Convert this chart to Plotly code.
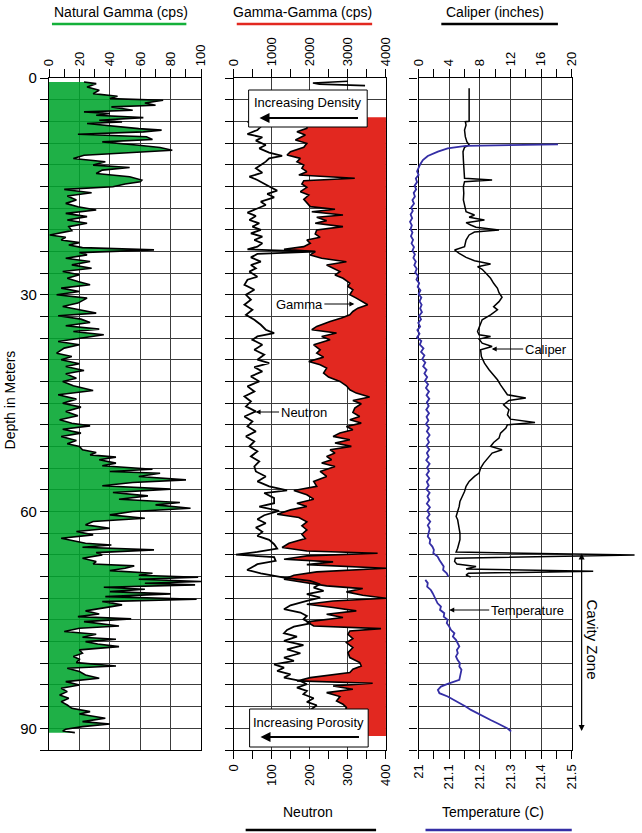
import plotly.graph_objects as go

# ---- data (depth in m) ----
ng_depth = [0.55, 0.78, 1.24, 1.70, 2.16, 2.53, 2.85, 3.08, 3.45, 3.77, 4.00, 4.46, 4.69, 4.92, 5.15, 5.48, 5.84, 6.07, 6.30, 6.76,
            7.00, 7.22, 7.45, 7.78, 8.14, 8.51, 8.84, 9.30, 9.62, 9.99, 10.35, 10.68, 11.14, 11.60, 12.06, 12.38, 12.75, 13.21, 13.67, 14.13,
            14.36, 14.68, 15.05, 15.42, 15.88, 16.34, 16.89, 17.35, 17.81, 18.27, 18.73, 19.19, 19.65, 20.11, 20.57, 21.12, 21.72, 22.04, 22.41, 22.78,
            23.10, 23.47, 23.79, 24.16, 24.48, 24.94, 25.40, 25.86, 26.32, 26.78, 27.24, 27.70, 28.16, 28.62, 29.08, 29.54, 30.00,
            30.46, 31.15, 31.62, 32.08, 32.54, 32.91, 33.37, 33.83, 34.29, 34.75, 35.08, 35.54, 36.00, 36.46, 36.92, 37.38, 38.08, 38.54, 39.00, 39.55,
            39.92, 40.48, 40.94, 41.54, 42.00, 42.60, 43.24, 43.84, 44.44, 45.00, 45.55, 46.15, 46.75, 47.30, 47.77, 48.14, 48.60, 49.15, 49.61, 50.17,
            50.63, 51.00, 51.46, 51.83, 52.15, 52.47, 52.84, 53.30, 53.67, 54.14, 54.46, 54.69, 55.15, 55.61, 55.98, 56.44, 56.90, 57.37, 57.83, 58.29,
            58.75, 59.07, 59.54, 60.00, 60.46, 60.92, 61.38, 61.84, 62.31, 62.77, 63.23, 63.69,
            64.38, 64.62, 64.94, 65.31, 65.68, 66.00, 66.46, 66.92, 67.25, 67.52, 67.85, 68.17, 68.54, 68.81, 69.09, 69.37, 69.69, 69.92, 70.15, 70.48,
            70.75, 71.08, 71.40, 71.77, 72.14, 72.46, 72.92, 73.38, 73.75, 74.17, 74.54, 74.86, 75.23, 75.83, 76.15, 76.61, 76.98, 77.40, 77.68, 78.00,
            78.32, 78.69, 79.15, 79.61, 80.07, 80.44, 80.91, 81.37, 81.69, 82.15, 82.61, 83.08, 83.54, 84.00, 84.46, 84.92, 85.38, 85.84, 86.31, 86.77,
            87.23, 87.69, 88.01, 88.61, 89.07, 89.40, 89.77, 90.14, 90.37, 90.60]
ng_cps = [23, 31, 25, 33, 29, 45, 40, 75, 63, 70, 41, 55, 23, 40, 31, 62, 33, 48, 25, 46,
          59, 74, 62, 19, 64, 68, 35, 59, 73, 81, 54, 23, 16, 37, 29, 53, 35, 31, 53, 61,
          60, 50, 42, 10, 28, 12, 18, 11, 19, 31, 11, 25, 12, 25, 13, 15, 0.5, 11, 8, 20,
          13, 22, 69, 20, 25, 11, 27, 15, 28, 9, 20, 12, 19, 27, 8, 20, 5,
          25, 19, 9, 20, 31, 6, 21, 27, 11, 33, 16, 36, 22, 6, 20, 10, 5, 15, 8, 20,
          11, 23, 11, 18, 9, 16, 29, 6, 18, 9, 21, 11, 19, 7, 15, 27, 9, 21, 8, 18,
          12, 20, 22, 31, 27, 44, 33, 44, 35, 68, 40, 73, 59, 90, 55, 35, 80, 42, 65, 46,
          86, 70, 93, 55, 40, 63, 29, 24, 40, 18, 29, 8,
          24, 41, 22, 69, 31, 35, 22, 31, 29, 56, 50, 40, 68, 59, 98, 59, 100, 63, 96, 36,
          63, 40, 80, 37, 97, 35, 48, 33, 24, 33, 19, 54, 23, 46, 20, 10, 31, 22, 44, 24,
          32, 46, 20, 22, 16, 20, 18, 44, 12, 20, 24, 33, 11, 20, 8, 12, 7, 13, 8, 12,
          15, 27, 20, 37, 22, 40, 22, 11, 9, 17]

gg_top_depth = [0.45, 0.70, 0.85, 1.05]
gg_top_cps = [3000, 2080, 2250, 3450]

gg_depth = [5.44, 6.00, 6.96, 7.43, 7.89, 8.58, 9.04, 9.59, 10.19, 10.66, 11.12, 11.58, 12.04, 12.50, 12.96, 13.42, 13.88, 14.21, 14.67, 15.13,
            15.73, 16.19, 16.79, 17.34, 17.80, 18.17, 18.50, 18.96, 19.28, 19.74, 20.11, 20.57, 21.03, 21.59, 22.05, 22.42, 22.88, 23.34, 23.71, 24.03,
            24.49, 24.95, 25.42, 25.88, 26.33, 26.80, 27.26, 27.72,
            28.39, 28.85, 29.31, 30.00, 30.46, 30.92, 31.38, 31.85, 32.31, 32.77, 33.23, 33.69, 34.38, 34.84, 35.30, 35.77, 36.23, 36.92, 37.61, 38.07,
            38.63, 39.22, 39.68, 40.14, 40.84, 41.39, 41.99, 42.59, 43.15, 43.61, 44.16, 44.62, 45.08, 45.68, 46.28, 46.84, 47.30, 47.76, 48.22, 48.68,
            49.14, 49.60, 50.06, 50.52, 50.98, 51.45, 51.91, 52.37, 52.83, 53.29, 53.76, 54.45, 55.14, 55.83, 56.52, 57.08, 57.68,
            58.29, 58.85, 59.31, 59.77, 60.37, 60.83, 61.43, 61.98, 62.54, 63.14, 63.74, 64.38, 64.98, 65.45, 65.77, 66.14, 66.60, 66.97, 67.34, 67.85,
            68.35, 68.81, 69.37, 69.83, 70.29, 70.66, 71.12, 71.58, 72.00, 72.37, 72.83, 73.29, 73.75, 74.21, 74.67, 75.27, 75.83, 76.20, 76.52, 76.98,
            77.58, 78.14, 78.83, 79.52, 80.21, 80.90, 81.37, 81.83, 82.29, 82.98, 83.44, 83.77, 84.14, 84.60, 85.06, 85.61, 86.21, 86.67, 87.13, 88.00,
            89.00, 90.00, 91.06]
gg_cps = [2000, 1950, 1920, 1660, 1880, 1620, 1920, 1840, 1490, 1400, 1750, 1660, 1840, 1790, 1920, 1710, 3180, 1840, 1790, 1920,
          1750, 1970, 1840, 1920, 2010, 2660, 2050, 2870, 2180, 2440, 2140, 2870, 2180, 2140, 2270, 1920, 2010, 1840, 1320, 2140,
          2010, 2310, 2960, 2440, 2610, 2790, 2660, 2870,
          3050, 3000, 3130, 3050, 3220, 3390, 3520, 3260, 3130, 3050, 2830, 2530, 2180, 2050, 2700, 2310, 2530, 2100, 2270, 2180,
          2360, 1970, 2270, 2440, 2360, 2490, 2790, 2960, 3050, 3220, 3570, 3130, 3350, 3180, 3130, 3310, 3050, 3350, 2960, 3130,
          2790, 2610, 3050, 2660, 3090, 2530, 2660, 2440, 2570, 2310, 2660, 2270, 2440, 2100, 2180, 1580, 1920,
          2100, 1660, 1920, 1490, 1140, 1710, 1920, 1790, 1920, 1790, 1880, 1450, 1270, 1920, 3780, 1920, 1320, 2610, 1920, 4000,
          2180, 1580, 1320, 1920, 2440, 3390, 2960, 3390, 4000, 2610, 1920, 2610, 3220, 2440, 2870, 1920, 2100, 3870, 3050, 3000,
          3130, 2960, 3130, 3000, 3050, 3310, 3350, 3130, 3050, 2010, 1660, 3650, 2610, 3130, 2440, 2790, 2700, 2870, 2960, 2900,
          3000, 2950, 3000]

nt_depth = [6.04, 6.73, 7.20, 7.75, 8.21, 8.67, 9.27, 9.73, 10.33, 10.79, 11.12, 11.58, 12.04, 12.50, 13.10, 13.65, 14.11, 14.67, 15.13, 15.59,
            16.05, 16.51, 17.11, 17.57, 18.03, 18.63, 19.10, 19.65, 20.11, 20.57, 21.03, 21.49, 21.96, 22.42, 22.88, 23.34, 23.71, 24.03, 24.35, 24.82,
            25.42, 25.88, 26.34, 26.80, 27.49,
            27.92, 28.62, 29.31, 30.00, 30.69, 31.38, 32.08, 32.77, 33.46, 34.15, 34.84, 35.30, 35.77, 36.23, 36.92, 37.61, 38.30, 38.99, 39.45, 40.01,
            40.61, 41.30, 41.99, 42.68, 43.38, 44.07, 44.76, 45.45, 46.14, 46.84, 47.53, 48.22, 48.91, 49.60, 50.29, 50.98, 51.68, 52.37, 53.06, 53.75,
            54.45, 55.14, 55.83, 56.52, 57.08, 57.44, 58.14,
            58.85, 59.31, 59.91, 60.51, 61.06, 61.62, 62.22, 62.81, 63.37, 63.92, 64.52, 65.12, 65.58, 65.95, 66.32, 66.83, 67.29, 68.08, 68.54, 69.14,
            69.60, 70.06, 70.52, 70.98, 71.44, 71.91, 72.37, 72.97, 73.52, 73.98, 74.44, 74.91, 75.46, 75.92, 76.38, 76.84, 77.31, 77.91, 78.50, 79.06,
            79.61, 80.21, 80.67, 81.14, 81.60, 82.06, 82.52, 82.98, 83.44, 83.90, 84.37, 84.83, 85.29, 85.84, 86.35, 86.81, 87.50, 88.50, 89.50, 90.50]
nt_cps = [36, 71, 62, 36, 75, 58, 84, 67, 93, 127, 93, 84, 71, 58, 75, 41, 62, 80, 97, 114,
          88, 106, 71, 84, 62, 36, 58, 41, 67, 49, 71, 45, 75, 54, 75, 62, 36, 214, 62, 45,
          71, 45, 58, 41, 62,
          36, 28, 54, 32, 45, 28, 49, 32, 54, 71, 84, 106, 62, 49, 75, 54, 80, 62, 93, 54,
          75, 45, 67, 36, 54, 28, 45, 32, 58, 28, 49, 36, 58, 32, 54, 41, 62, 45, 67, 54,
          58, 84, 62, 93, 140, 80, 106,
          106, 67, 119, 80, 62, 84, 58, 75, 62, 93, 106, 114, 62, 6, 106, 110, 62, 35, 71, 132,
          201, 227, 210, 236, 192, 227, 192, 149, 132, 175, 192, 183, 201, 158, 140, 132, 166, 132, 183, 140,
          175, 132, 158, 106, 132, 114, 149, 132, 175, 192, 166, 192, 183, 210, 192, 218, 200, 220, 240, 230]

cal_depth = [1.43, 6.00, 6.04, 6.50, 7.20, 8.12, 8.81, 9.27, 9.59, 10.19, 11.35, 12.73, 13.88, 14.11, 14.35, 15.04, 15.96, 16.88, 17.80, 18.50,
             18.96, 19.28, 19.65, 20.02, 20.34, 20.66, 21.03, 21.31, 21.72, 22.42, 23.34, 23.80, 24.26, 24.82, 25.28, 25.74, 26.11, 26.48, 27.03, 27.72,
             28.41, 29.10, 29.71, 30.35, 30.95, 31.64,
             32.08, 32.77, 33.46, 34.38, 35.08, 35.54, 35.77, 36.14, 36.69, 37.15, 37.61, 38.54, 39.46, 40.38, 41.07, 41.76, 42.46, 43.15, 43.84, 44.30,
             44.62, 45.22, 45.91, 46.61, 47.21, 47.67, 47.99, 48.45, 49.14, 49.84, 50.44, 50.99, 51.45, 51.91, 52.60, 53.30, 53.99, 54.68, 55.14, 55.83,
             56.52, 57.22, 57.91, 58.60, 59.29, 59.98, 60.68, 61.14, 62.06, 62.98, 63.90,
             64.38, 65.08, 65.60, 66.02, 66.45, 66.90, 67.25, 67.60, 67.95, 68.25, 68.55, 68.80, 69.05]
cal_in = [6.6, 6.6, 6.1, 6.2, 6.0, 6.1, 6.3, 6.6, 6.0, 5.8, 5.85, 5.9, 6.0, 9.6, 6.0, 5.85, 5.9, 5.85, 6.0, 6.2,
          7.3, 6.6, 8.6, 6.2, 6.8, 7.5, 10.5, 7.3, 6.6, 6.2, 6.0, 4.7, 5.3, 6.2, 7.3, 9.4, 7.7, 8.3, 8.8, 9.4,
          9.8, 10.3, 10.5, 10.9, 10.5, 9.8,
          10.3, 9.4, 8.3, 7.9, 7.7, 7.9, 9.4, 7.9, 8.3, 9.6, 8.1, 8.2, 8.6, 9.2, 9.8, 10.3, 10.7, 11.1, 11.6, 14.0,
          11.8, 11.1, 11.8, 11.6, 12.0, 15.2, 11.6, 11.4, 10.7, 10.5, 9.8, 9.4, 10.9, 9.6, 9.0, 8.5, 8.1, 7.9, 7.3, 6.6,
          6.2, 6.0, 5.7, 5.4, 5.3, 5.1, 4.9, 5.1, 5.3, 5.4, 5.4,
          5.3, 5.1, 4.9, 28.2, 4.8, 4.7, 5.0, 7.5, 6.2, 22.8, 6.5, 6.2, 6.8]

temp_depth = [9.18, 9.40, 9.73, 10.19, 10.79, 11.35, 11.90, 12.40, 12.90, 13.40, 13.90, 14.40, 14.90, 15.40, 15.90, 16.40, 16.90, 17.40, 17.90, 18.40,
              18.90, 19.40, 19.90, 20.40, 20.90, 21.40, 21.90, 22.40, 22.90, 23.40, 23.90, 24.40, 24.90, 25.40, 25.90, 26.40, 26.90, 27.40, 27.90, 28.40,
              28.90, 29.40, 29.90, 30.40, 30.90, 31.40, 31.90,
              32.40, 32.90, 33.40, 33.90, 34.40, 34.90, 35.40, 35.90, 36.40, 36.90, 37.40, 37.90, 38.40, 38.90, 39.40, 39.90, 40.40, 40.90, 41.40, 41.90,
              42.40, 42.90, 43.40, 43.90, 44.40, 44.90, 45.40, 45.90, 46.40, 46.90, 47.40, 47.90, 48.40, 48.90, 49.40, 49.90, 50.40, 50.90, 51.40, 51.90,
              52.40, 52.90, 53.40, 53.90, 54.40, 54.90, 55.40, 55.90, 56.40, 56.90, 57.40, 57.90, 58.40, 58.90, 59.40, 59.90, 60.40, 60.90, 61.40, 61.90,
              62.40,
              62.90, 63.46, 63.90, 64.38, 64.85, 65.31, 65.75, 66.23, 66.70, 67.15, 67.60, 68.07, 68.55, 69.00, None, 69.46, 69.90, 70.38, 70.85, 71.30,
              71.75, 72.22, 72.70, 73.15, 73.60, 74.07, 74.55, 74.99, 75.45, 75.92, 76.40, 76.84, 77.30, 77.76, 78.20, 78.68, 79.15, 79.60, 80.05, 80.53,
              81.00, 81.45, 81.90, 82.37, 82.85, 83.29, 83.85, 84.22, 84.68, 85.14, 85.60, 86.05, 86.52, 87.00, 87.45, 87.90, 88.37, 88.85, 89.29, 89.70,
              89.98, 90.44]
temp_c = [21.455, 21.154, 21.095, 21.063, 21.030, 21.014, 21.006, 21.001, 20.995, 21.000, 20.991, 20.995, 20.987, 20.992, 20.984, 20.988, 20.980, 20.985, 20.976, 20.981,
          20.974, 20.979, 20.972, 20.978, 20.974, 20.980, 20.975, 20.982, 20.977, 20.985, 20.980, 20.988, 20.983, 20.991, 20.986, 20.994, 20.989, 20.998, 20.993, 21.002,
          20.997, 21.006, 21.000, 21.009, 21.003, 21.010, 21.005,
          21.011, 21.002, 21.008, 20.999, 21.005, 20.996, 21.003, 20.995, 21.009, 21.004, 21.016, 21.008, 21.019, 21.012, 21.022, 21.015, 21.026, 21.019, 21.028, 21.021,
          21.031, 21.024, 21.034, 21.026, 21.035, 21.027, 21.033, 21.025, 21.034, 21.026, 21.032, 21.024, 21.034, 21.027, 21.036, 21.028, 21.034, 21.026, 21.035, 21.027,
          21.033, 21.025, 21.036, 21.028, 21.034, 21.026, 21.035, 21.027, 21.033, 21.025, 21.036, 21.029, 21.035, 21.027, 21.037, 21.029, 21.036, 21.028, 21.038, 21.030,
          21.036,
          21.032, 21.030, 21.038, 21.036, 21.045, 21.050, 21.048, 21.062, 21.068, 21.076, 21.082, 21.080, 21.092, 21.097, None, 21.022, 21.030, 21.028, 21.040, 21.046,
          21.052, 21.057, 21.062, 21.073, 21.070, 21.084, 21.082, 21.095, 21.092, 21.100, 21.106, 21.117, 21.112, 21.122, 21.128, 21.133, 21.125, 21.128, 21.122, 21.127,
          21.135, 21.133, 21.140, 21.138, 21.135, 21.133, 21.095, 21.073, 21.063, 21.068, 21.095, 21.115, 21.138, 21.155, 21.171, 21.190, 21.214, 21.235, 21.257, 21.275,
          21.289, 21.302]

# ---- page geometry, in pixels of the target picture ----
W, H = 642, 833
PLOT_L, PLOT_R, PLOT_T, PLOT_B = 49, 642, 78, 750
P1, P2, P3 = (49, 203), (236, 390), (423, 578)
DEPTH_MAX = 93


def fx(p):
    return (p - PLOT_L) / (PLOT_R - PLOT_L)


def fy(p):
    return (PLOT_B - p) / (PLOT_B - PLOT_T)


GREEN = "rgba(0,165,45,0.88)"
RED = "rgb(226,40,32)"
BLUE = "rgb(52,46,165)"
GRID = "#3c3c3c"
FONT = "Liberation Sans, Arial, sans-serif"

fig = go.Figure()

# natural gamma
fig.add_trace(go.Scatter(x=ng_cps, y=ng_depth, mode="lines", fill="tozerox", fillcolor=GREEN,
                         line=dict(color="black", width=1.6), xaxis="x", yaxis="y"))

# gamma-gamma: red fill from curve to right edge
fig.add_trace(go.Scatter(x=gg_cps + [4000, 4000], y=gg_depth + [gg_depth[-1], gg_depth[0]],
                         mode="lines", fill="toself", fillcolor=RED, line=dict(width=0),
                         xaxis="x2", yaxis="y2"))
fig.add_trace(go.Scatter(x=gg_cps, y=gg_depth, mode="lines", line=dict(color="black", width=1.6),
                         xaxis="x2", yaxis="y2"))
fig.add_trace(go.Scatter(x=gg_top_cps, y=gg_top_depth, mode="lines", line=dict(color="black", width=1.6),
                         xaxis="x2", yaxis="y2"))
# neutron
fig.add_trace(go.Scatter(x=nt_cps, y=nt_depth, mode="lines", line=dict(color="black", width=1.8),
                         xaxis="x3", yaxis="y2"))
# empty traces so the caliper/temperature track axes get drawn
fig.add_trace(go.Scatter(x=[], y=[], xaxis="x4", yaxis="y3"))
fig.add_trace(go.Scatter(x=[], y=[], xaxis="x5", yaxis="y3"))
# temperature and caliper on wider hidden axes so they can run past the track edges
fig.add_trace(go.Scatter(x=temp_c, y=temp_depth, mode="lines", line=dict(color=BLUE, width=1.8),
                         xaxis="x7", yaxis="y5"))
fig.add_trace(go.Scatter(x=cal_in, y=cal_depth, mode="lines", line=dict(color="black", width=1.5),
                         xaxis="x6", yaxis="y4"))

tick_font = dict(size=13, family=FONT, color="black")


def yax(anchor, labels):
    return dict(anchor=anchor, domain=[0, 1], range=[DEPTH_MAX, 0], tick0=0, dtick=30,
                ticks="outside", ticklen=8, tickcolor="black", showticklabels=labels,
                tickfont=dict(size=15, family=FONT, color="black"),
                showgrid=True, gridcolor=GRID, gridwidth=1, zeroline=False,
                showline=True, linecolor="black", linewidth=1.2, mirror=True,
                minor=dict(tick0=0, dtick=3, ticks="outside", ticklen=8, tickcolor="black",
                           showgrid=True, gridcolor=GRID, gridwidth=1))


def xtop(panel, rng, dt, anchor):
    return dict(anchor=anchor, domain=[fx(panel[0]), fx(panel[1])], range=rng, side="top",
                tick0=rng[0], dtick=dt, ticks="outside", ticklen=8, tickcolor="black",
                tickangle=-90, tickfont=tick_font, showgrid=True, gridcolor=GRID, gridwidth=1,
                zeroline=False, showline=True, linecolor="black", linewidth=1.2, mirror=True,
                minor=dict(dtick=dt / 2, ticks="outside", ticklen=8, tickcolor="black", showgrid=False))


def xbottom(over, rng, dt, anchor):
    return dict(anchor=anchor, overlaying=over, range=rng, side="bottom", tick0=rng[0], dtick=dt,
                ticks="outside", ticklen=8, tickcolor="black", tickangle=-90, tickfont=tick_font,
                showgrid=False, zeroline=False, showline=True, linecolor="black", linewidth=1.2,
                minor=dict(dtick=dt / 2, ticks="outside", ticklen=8, tickcolor="black", showgrid=False))


cal_hi = 20 * (PLOT_R - P3[0]) / (P3[1] - P3[0])
temp_lo = 21 - 0.5 * (P3[0] - 405) / (P3[1] - P3[0])

fig.update_layout(
    width=W, height=H, autosize=False,
    margin=dict(l=PLOT_L, r=W - PLOT_R, t=PLOT_T, b=H - PLOT_B),
    paper_bgcolor="white", plot_bgcolor="rgba(0,0,0,0)",
    showlegend=False,
    font=dict(family=FONT, color="black", size=13),
    xaxis=xtop(P1, [0, 100], 20, "y"),
    yaxis=yax("x", True),
    xaxis2=xtop(P2, [0, 4000], 1000, "y2"),
    yaxis2=yax("x2", False),
    xaxis3=xbottom("x2", [0, 400], 100, "y2"),
    xaxis4=xtop(P3, [0, 20], 4, "y3"),
    yaxis3=yax("x4", False),
    xaxis5=xbottom("x4", [21, 21.5], 0.1, "y3"),
    xaxis6=dict(domain=[fx(P3[0]), 1], range=[0, cal_hi], visible=False, anchor="y4"),
    yaxis4=dict(domain=[0, 1], range=[DEPTH_MAX, 0], visible=False, anchor="x6"),
    xaxis7=dict(domain=[fx(405), fx(P3[1])], range=[temp_lo, 21.5], visible=False, anchor="y5"),
    yaxis5=dict(domain=[0, 1], range=[DEPTH_MAX, 0], visible=False, anchor="x7"),
)

shapes = []
annotations = []


def label(text, px, py, size=14, angle=0):
    annotations.append(dict(text=text, x=fx(px), y=fy(py), xref="paper", yref="paper",
                            showarrow=False, textangle=angle, font=dict(size=size, family=FONT, color="black"),
                            xanchor="center", yanchor="middle"))


def hline(x0, x1, py, color, width=2.5):
    shapes.append(dict(type="line", xref="paper", yref="paper", x0=fx(x0), x1=fx(x1), y0=fy(py), y1=fy(py),
                       line=dict(color=color, width=width)))


def pointer(text, tip_x, tip_y, ax, ay=0, size=13):
    annotations.append(dict(text=text, x=fx(tip_x), y=fy(tip_y), xref="paper", yref="paper",
                            ax=ax, ay=ay, showarrow=True, arrowhead=2, arrowsize=1, arrowwidth=1,
                            arrowcolor="black", font=dict(size=size, family=FONT, color="black")))


# track headers
label("Natural Gamma (cps)", 122, 12)
hline(52, 188, 24, "rgb(20,176,58)")
label("Gamma-Gamma (cps)", 306, 12)
hline(239, 376, 24, RED)
label("Caliper (inches)", 500, 12)
hline(446, 564, 24, "black")
# bottom titles
label("Neutron", 311, 812)
hline(248, 380, 830, "black")
label("Temperature (C)", 498, 812)
hline(430, 578, 830, BLUE)
label("Depth in Meters", 10, 400, angle=-90)

# direction boxes
for (x0, x1, y0, y1, txt, ty, ay_) in [(251, 371, 90, 127, "Increasing Density", 103, 118),
                                       (252, 372, 709, 747, "Increasing Porosity", 722, 737)]:
    shapes.append(dict(type="rect", xref="paper", yref="paper", x0=fx(x0), x1=fx(x1), y0=fy(y1), y1=fy(y0),
                       fillcolor="white", line=dict(color="black", width=1), layer="above"))
    label(txt, (x0 + x1) / 2, ty, size=13)
    annotations.append(dict(text="", x=fx(x0 + 11), y=fy(ay_), xref="paper", yref="paper",
                            ax=x1 - x0 - 20, ay=0, showarrow=True, arrowhead=2, arrowsize=1,
                            arrowwidth=2, arrowcolor="black"))

pointer("Gamma", 358, 304, -55)
pointer("Neutron", 258, 412, 48)
pointer("Caliper", 497, 349, 54)
pointer("Temperature", 454, 610, 78)

# cavity zone
annotations.append(dict(text="", x=fx(588), y=fy(731), xref="paper", yref="paper", ax=0, ay=-179,
                        showarrow=True, arrowhead=2, startarrowhead=2, arrowside="end+start",
                        arrowsize=1, arrowwidth=1.2, arrowcolor="black"))
label("Cavity Zone", 600, 640, size=15, angle=90)

fig.update_layout(shapes=shapes, annotations=annotations)
# drop the default 8px body margin so the figure sits at the page corner; no modebar
fig.write_html("out.html", config={"displayModeBar": False},
               post_script="document.body.style.margin='0';")
